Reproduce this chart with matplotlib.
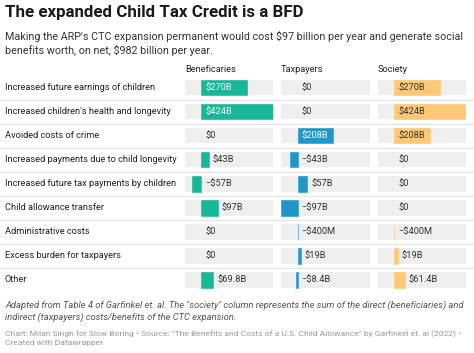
import matplotlib.pyplot as plt

plt.rcParams["font.family"] = ["Roboto", "DejaVu Sans"]

# row labels, top to bottom
rows = [
    "Increased future earnings of children",
    "Increased children's health and longevity",
    "Avoided costs of crime",
    "Increased payments due to child longevity",
    "Increased future tax payments by children",
    "Child allowance transfer",
    "Administrative costs",
    "Excess burden for taxpayers",
    "Other",
]

# values in billions of dollars
beneficiaries = [270, 424, 0, 43, -57, 97, 0, 0, 69.8]
taxpayers = [0, 0, 208, -43, 57, -97, -0.4, 19, -8.4]
society = [270, 424, 208, 0, 0, 0, -0.4, 19, 61.4]

beneficiaries_labels = ["$270B", "$424B", "$0", "$43B", "\u2212$57B", "$97B", "$0", "$0", "$69.8B"]
taxpayers_labels = ["$0", "$0", "$208B", "\u2212$43B", "$57B", "\u2212$97B", "\u2212$400M", "$19B", "\u2212$8.4B"]
society_labels = ["$270B", "$424B", "$208B", "$0", "$0", "$0", "\u2212$400M", "$19B", "$61.4B"]

columns = ["Beneficaries", "Taxpayers", "Society"]

W, H = 474, 353
fig = plt.figure(figsize=(W / 100, H / 100), dpi=100)


def fx(px):
    return px / W


def fy(px):
    return 1 - px / H


# title and subtitle
fig.text(fx(5), fy(13), "The expanded Child Tax Credit is a BFD",
         fontsize=12.2, fontweight="bold", color="#1a1a1a", va="center")
fig.text(fx(5), fy(43.5),
         "Making the ARP's CTC expansion permanent would cost $97 billion per year and generate social\n"
         "benefits worth, on net, $982 billion per year.",
         fontsize=7.75, color="#333333", va="center", linespacing=1.3)

# table area
top, bottom = 75.5, 292
vmin, vmax = -97, 424

# background axes for row labels and separators
bg = fig.add_axes([0, fy(bottom), 1, (bottom - top) / H])
bg.set_xlim(0, W)
bg.set_ylim(len(rows) - 0.5, -0.5)
bg.axis("off")
bg.hlines([i + 0.5 for i in range(len(rows) - 1)], 0, W, color="#e4e4e4", lw=0.8)
for i, r in enumerate(rows):
    bg.text(5, i, r, fontsize=6.7, color="#222222", va="center")

col_x = [(185, 273), (281, 370), (378, 466)]
col_vals = [beneficiaries, taxpayers, society]
col_labels = [beneficiaries_labels, taxpayers_labels, society_labels]
col_colors = ["#18b797", "#1f97c9", "#fec877"]
inside_text = ["white", "white", "#333333"]

fig.canvas.draw()
renderer = fig.canvas.get_renderer()

for c in range(3):
    x0, x1 = col_x[c]
    ax = fig.add_axes([fx(x0), fy(bottom), (x1 - x0) / W, (bottom - top) / H])
    ax.set_xlim(vmin, vmax)
    ax.set_ylim(len(rows) - 0.5, -0.5)
    ax.axis("off")
    ypos = list(range(len(rows)))
    ax.barh(ypos, [vmax - vmin] * len(rows), left=vmin, height=0.645, color="#efefef")
    # thin edge so tiny values (-$400M) still show as a hairline
    ax.barh(ypos, col_vals[c], height=0.645, color=col_colors[c],
            edgecolor=[col_colors[c] if v != 0 else "none" for v in col_vals[c]], linewidth=0.4)
    unit = (vmax - vmin) / (x1 - x0)  # data units per pixel
    for i, v in enumerate(col_vals[c]):
        t = ax.text(4 * unit, i, col_labels[c][i], fontsize=6.7, va="center",
                    color=inside_text[c])
        tw = t.get_window_extent(renderer).width * unit
        if v <= 0 or tw + 8 * unit > v:
            t.set_x(max(v, 0) + 4 * unit)
            t.set_color("#333333")
    fig.text(fx(x0), fy(70), columns[c], fontsize=6.7, color="#222222", va="center")

# notes and credits
fig.text(fx(5), fy(311),
         "Adapted from Table 4 of Garfinkel et. al. The \"society\" column represents the sum of the direct (beneficiaries) and\n"
         "indirect (taxpayers) costs/benefits of the CTC expansion.",
         fontsize=6.75, style="italic", color="#555555", va="center", linespacing=1.3)
fig.text(fx(5), fy(338.5),
         "Chart: Milan Singh for Slow Boring \u2022 Source: \"The Benefits and Costs of a U.S. Child Allowance\" by Garfinkel et. al (2022) \u2022\n"
         "Created with Datawrapper",
         fontsize=6.1, color="#999999", va="center", linespacing=1.35)

fig.savefig("out.png", dpi=100, facecolor="white")
